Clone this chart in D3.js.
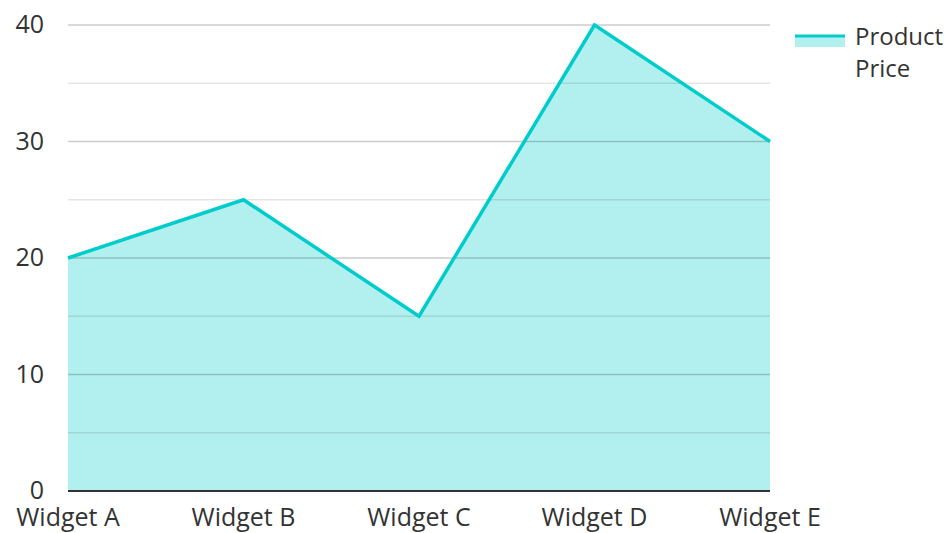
<!DOCTYPE html>
<html>
<head>
<meta charset="utf-8">
<script src="https://cdn.jsdelivr.net/npm/d3@7"></script>
<style>
  body { margin: 0; background: #fff; }
  text { font-family: "Open Sans", "Noto Sans", sans-serif; fill: #333; }
</style>
</head>
<body>
<script>
const width = 949;
const height = 533;

const categories = ["Widget A", "Widget B", "Widget C", "Widget D", "Widget E"];
const prices = [20, 25, 15, 40, 30];
const yTicks = [0, 10, 20, 30, 40];
const yMinorTicks = [5, 15, 25, 35];
const seriesName = ["Product", "Price"];

const teal = "#00cccc";

const svg = d3.select("body")
    .append("svg")
    .attr("width", width)
    .attr("height", height)
    .attr("viewBox", [0, 0, width, height]);

const x = d3.scalePoint()
    .domain(categories)
    .range([68, 770]);

const y = d3.scaleLinear()
    .domain([0, 40])
    .range([491, 25]);

const data = categories.map((c, i) => ({ cat: c, value: prices[i] }));

// area fill
const area = d3.area()
    .x(d => x(d.cat))
    .y0(y(0))
    .y1(d => y(d.value));

svg.append("path")
    .datum(data)
    .attr("fill", teal)
    .attr("fill-opacity", 0.3)
    .attr("d", area);

// grid lines over the fill
svg.selectAll(".minor")
    .data(yMinorTicks)
    .enter()
    .append("line")
    .attr("x1", 68)
    .attr("x2", 770)
    .attr("y1", d => y(d))
    .attr("y2", d => y(d))
    .attr("stroke", "#000")
    .attr("stroke-opacity", 0.1)
    .attr("stroke-width", 1.5);

svg.selectAll(".major")
    .data(yTicks.filter(d => d !== 0))
    .enter()
    .append("line")
    .attr("x1", 68)
    .attr("x2", 770)
    .attr("y1", d => y(d))
    .attr("y2", d => y(d))
    .attr("stroke", "#000")
    .attr("stroke-opacity", 0.2)
    .attr("stroke-width", 1.5);

// line
const line = d3.line()
    .x(d => x(d.cat))
    .y(d => y(d.value));

svg.append("path")
    .datum(data)
    .attr("fill", "none")
    .attr("stroke", teal)
    .attr("stroke-width", 3.5)
    .attr("stroke-linejoin", "miter")
    .attr("d", line);

// x axis baseline
svg.append("line")
    .attr("x1", 68)
    .attr("x2", 770)
    .attr("y1", y(0))
    .attr("y2", y(0))
    .attr("stroke", "#333")
    .attr("stroke-width", 2);

// y tick labels
svg.selectAll(".ylab")
    .data(yTicks)
    .enter()
    .append("text")
    .attr("x", 44)
    .attr("y", d => y(d))
    .attr("dy", "0.33em")
    .attr("text-anchor", "end")
    .style("font-size", "25px")
    .text(d => d);

// x labels
svg.selectAll(".xlab")
    .data(categories)
    .enter()
    .append("text")
    .attr("x", d => x(d))
    .attr("y", 526)
    .attr("text-anchor", "middle")
    .style("font-size", "25px")
    .text(d => d);

// legend
const legend = svg.append("g").attr("transform", "translate(795,0)");
legend.append("rect")
    .attr("x", 0)
    .attr("y", 35)
    .attr("width", 50)
    .attr("height", 12)
    .attr("fill", teal)
    .attr("fill-opacity", 0.3);
legend.append("line")
    .attr("x1", 0)
    .attr("x2", 50)
    .attr("y1", 36)
    .attr("y2", 36)
    .attr("stroke", teal)
    .attr("stroke-width", 3);
legend.selectAll(".leg")
    .data(seriesName)
    .enter()
    .append("text")
    .attr("x", 60)
    .attr("y", (d, i) => 45 + i * 32)
    .style("font-size", "24px")
    .text(d => d);
</script>
</body>
</html>
